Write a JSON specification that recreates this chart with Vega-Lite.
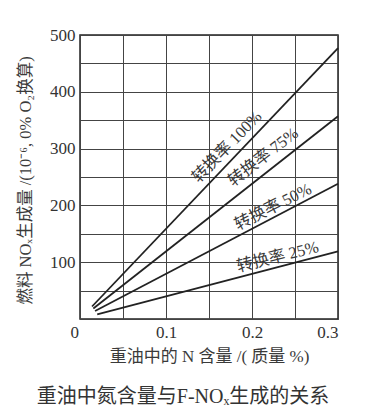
{
  "$schema": "https://vega.github.io/schema/vega-lite/v6.json",
  "autosize": "none",
  "width": 258,
  "height": 284,
  "padding": {"left": 80, "top": 35, "right": 33, "bottom": 95},
  "background": "white",
  "config": {
    "font": "Liberation Serif, Noto Sans CJK SC",
    "view": {"stroke": "#222", "strokeWidth": 1.5},
    "axis": {"labelFont": "Liberation Serif", "titleFont": "Liberation Serif, Noto Sans CJK SC", "labelColor": "#333", "titleColor": "#3a3a3a", "gridColor": "#444", "gridOpacity": 1, "gridWidth": 1, "domain": false, "ticks": false, "titleFontWeight": "normal"}
  },
  "title": {
    "text": "重油中氮含量与F-NOₓ生成的关系",
    "orient": "bottom",
    "anchor": "middle",
    "dx": -26,
    "offset": 23,
    "font": "Liberation Serif, Noto Sans CJK SC",
    "fontSize": 20,
    "fontWeight": "normal",
    "color": "#333"
  },
  "datasets": {
    "lines": [
      {"rate": "100%", "n": 0.014, "no": 22},
      {"rate": "100%", "n": 0.3, "no": 477},
      {"rate": "75%", "n": 0.0155, "no": 18.5},
      {"rate": "75%", "n": 0.3, "no": 357},
      {"rate": "50%", "n": 0.0175, "no": 14},
      {"rate": "50%", "n": 0.3, "no": 238},
      {"rate": "25%", "n": 0.02, "no": 8},
      {"rate": "25%", "n": 0.3, "no": 119}
    ],
    "labels": [
      {"rate": "100%", "label": "转换率 100%", "n": 0.171, "no": 303},
      {"rate": "75%", "label": "转换率 75%", "n": 0.213, "no": 285},
      {"rate": "50%", "label": "转换率 50%", "n": 0.2245, "no": 197},
      {"rate": "25%", "label": "转换率 25%", "n": 0.230, "no": 109}
    ]
  },
  "encoding": {
    "x": {
      "field": "n", "type": "quantitative",
      "scale": {"domain": [0, 0.3], "nice": false},
      "axis": {
        "values": [0, 0.05, 0.1, 0.15, 0.2, 0.25, 0.3],
        "format": ".2~f",
        "labelExpr": "indexof(['0','0.1','0.2','0.3'], datum.label) >= 0 ? datum.label : ''",
        "labelFontSize": 17,
        "labelPadding": 5,
        "labelOffset": {"condition": {"test": "datum.value == 0", "value": -10}, "value": 0},
        "title": "重油中的 N 含量 /( 质量 %)",
        "titleFontSize": 17,
        "titlePadding": 8
      }
    },
    "y": {
      "field": "no", "type": "quantitative",
      "scale": {"domain": [0, 500], "nice": false},
      "axis": {
        "values": [0, 50, 100, 150, 200, 250, 300, 350, 400, 450, 500],
        "labelExpr": "datum.value > 0 && datum.value % 100 == 0 ? datum.label : ''",
        "labelFontSize": 17,
        "labelPadding": 5,
        "title": "燃料 NOₓ生成量 /(10⁻⁶, 0% O₂换算)",
        "titleFontSize": 16.5,
        "titleAngle": -90,
        "titleX": -55,
        "titleY": 145,
        "titleAlign": "center",
        "titleBaseline": "middle"
      }
    }
  },
  "layer": [
    {
      "data": {"name": "lines"},
      "mark": {"type": "line", "color": "#222", "strokeWidth": 1.8},
      "encoding": {"detail": {"field": "rate"}}
    },
    {
      "data": {"name": "labels"},
      "transform": [{"filter": "datum.rate == '100%'"}],
      "mark": {"type": "text", "angle": -46, "fontSize": 16.5, "color": "#3a3a3a", "font": "Liberation Serif, Noto Sans CJK SC"},
      "encoding": {"text": {"field": "label"}}
    },
    {
      "data": {"name": "labels"},
      "transform": [{"filter": "datum.rate == '75%'"}],
      "mark": {"type": "text", "angle": -38, "fontSize": 16.5, "color": "#3a3a3a", "font": "Liberation Serif, Noto Sans CJK SC"},
      "encoding": {"text": {"field": "label"}}
    },
    {
      "data": {"name": "labels"},
      "transform": [{"filter": "datum.rate == '50%'"}],
      "mark": {"type": "text", "angle": -27, "fontSize": 16.5, "color": "#3a3a3a", "font": "Liberation Serif, Noto Sans CJK SC"},
      "encoding": {"text": {"field": "label"}}
    },
    {
      "data": {"name": "labels"},
      "transform": [{"filter": "datum.rate == '25%'"}],
      "mark": {"type": "text", "angle": -14, "fontSize": 16.5, "color": "#3a3a3a", "font": "Liberation Serif, Noto Sans CJK SC"},
      "encoding": {"text": {"field": "label"}}
    }
  ]
}
